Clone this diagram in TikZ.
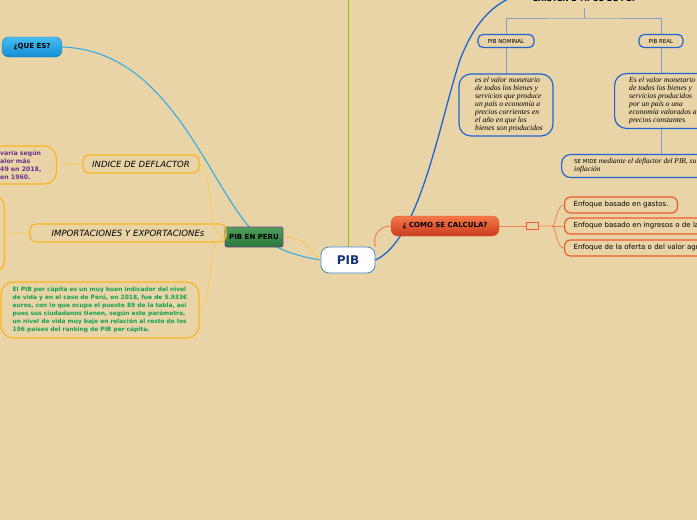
\documentclass[tikz,border=0pt]{standalone}
\usepackage{fontspec}
\setsansfont{DejaVu Sans}
\setmainfont{Liberation Serif}
\definecolor{bg}{RGB}{232,212,166}
\definecolor{cyel}{RGB}{250,180,30}
\definecolor{cyell}{RGB}{250,200,90}
\definecolor{cblue}{RGB}{30,100,210}
\definecolor{corg}{RGB}{240,90,40}
\definecolor{corgl}{RGB}{240,130,80}
\definecolor{cgl}{RGB}{130,160,200}
\definecolor{cgreen}{RGB}{140,190,20}
\definecolor{pibb}{RGB}{60,140,200}
\definecolor{pibt}{RGB}{20,50,120}
\definecolor{queb}{RGB}{20,120,190}
\definecolor{quet}{RGB}{70,190,240}
\definecolor{queo}{RGB}{20,140,210}
\definecolor{cyan2}{RGB}{40,170,230}
\definecolor{perub}{RGB}{110,70,140}
\definecolor{perut}{RGB}{80,160,90}
\definecolor{perubt}{RGB}{40,120,60}
\definecolor{tgreen}{RGB}{20,160,80}
\definecolor{tpurp}{RGB}{110,50,140}
\definecolor{comob}{RGB}{220,80,40}
\definecolor{comot}{RGB}{245,120,70}
\definecolor{comobt}{RGB}{200,60,30}
\begin{document}
\begin{tikzpicture}[x=1pt,y=-1pt,
 box/.style={draw,rounded corners=6pt,line width=1.2pt,inner sep=2pt},
 ybox/.style={box,draw=cyel},
 bbox/.style={box,draw=cblue},
 obox/.style={box,draw=corg},
 yl/.style={draw=cyell,line width=0.8pt},
 ol/.style={draw=corgl,line width=0.8pt},
 gl/.style={draw=cgl,line width=1pt},
 desc/.style={font=\itshape\fontsize{7.6}{8}\selectfont,align=left,anchor=north west,inner sep=0pt}]
\fill[bg] (0,0) rectangle (697,520);
\useasboundingbox (0,0) rectangle (697,520);
\begin{scope}
\clip (0,0) rectangle (697,520);
\coordinate (gtop) at (348,0);
\draw[cgreen,line width=1pt] (gtop) -- (348,248);
\node[font=\sffamily\bfseries\fontsize{7.5}{8}\selectfont] (tipos) at (584,-1) {EXISTEN 2 TIPOS DE PBI};
\coordinate (tj) at (584,18);
\draw[gl] (584,8) -- (tj);
\node[bbox,rounded corners=5pt,minimum width=56pt,minimum height=13pt,font=\sffamily\fontsize{5.5}{6}\selectfont] (nom) at (506,41) {PIB NOMINAL};
\node[bbox,rounded corners=5pt,minimum width=44pt,minimum height=13pt,font=\sffamily\fontsize{5.5}{6}\selectfont] (real) at (661,41) {PIB REAL};
\draw[gl] (nom.north) |- (tj) -| (real.north);
\draw[gl] (nom.south) -- (506,74);
\draw[gl] (real.south) -- (661,74);
\draw[gl] (661,128) -- (661,155);
\node[bbox,rounded corners=12pt,minimum width=94pt,minimum height=62pt] (nomt) at (506,105) {};
\node[desc] at (475,77) {es el valor monetario\\de todos los bienes y\\servicios que produce\\un país o economía a\\precios corrientes en\\el año en que los\\bienes son producidos};
\node[bbox,rounded corners=12pt,minimum width=94pt,minimum height=55pt,anchor=west] (realt) at (614,101) {};
\node[desc] at (629,77) {Es el valor monetario\\de todos los bienes y\\servicios producidos\\por un país o una\\economía valorados a\\precios constantes};
\node[bbox,rounded corners=9pt,minimum width=160pt,minimum height=23pt,anchor=west] (mide) at (561,166) {};
\node[desc,font=\itshape\fontsize{7.4}{8}\selectfont] at (574,158) {{\upshape\sffamily\fontsize{5.5}{7}\selectfont SE MIDE} mediante el deflactor del PIB, su\\inflación};
\node[draw=pibb,fill=white,rounded corners=8pt,minimum width=54pt,minimum height=26pt,line width=0.8pt,font=\sffamily\bfseries\fontsize{12}{12}\selectfont,text=pibt] (pib) at (348,260) {PIB};
\draw[cblue,line width=1.3pt] (pib.east) .. controls (420,240) and (440,120) .. (460,60) .. controls (475,20) and (495,5) .. (510,-2);
\node[draw=queb,top color=quet,bottom color=queo,rounded corners=7pt,minimum width=60pt,minimum height=20pt,font=\sffamily\bfseries\fontsize{7}{7}\selectfont] (que) at (32,47) {¿QUE ES?};
\draw[cyan2,line width=1pt] (que.east) .. controls (160,50) and (200,160) .. (240,215) .. controls (260,245) and (290,255) .. (pib.west);
\node[draw=perub,top color=perut,bottom color=perubt,rounded corners=2pt,minimum width=58pt,minimum height=20pt,line width=0.8pt,font=\sffamily\bfseries\fontsize{7}{7}\selectfont] (peru) at (254,237) {PIB EN PERU};
\draw[yl,line width=1pt] (pib.west) .. controls (310,250) and (305,237) .. (peru.east);
\node[ybox,minimum width=116pt,minimum height=18pt,font=\sffamily\itshape\fontsize{8.5}{9}\selectfont] (defl) at (141,164) {INDICE DE DEFLACTOR};
\node[ybox,minimum width=196pt,minimum height=18pt,font=\sffamily\itshape\fontsize{8.6}{9}\selectfont] (imp) at (128,233) {IMPORTACIONES Y EXPORTACIONEs};
\node[ybox,rounded corners=12pt,minimum width=198pt,minimum height=56pt,align=left,text=tgreen,font=\sffamily\bfseries\fontsize{5.9}{8}\selectfont] (capita) at (100,310) {El PIB per cápita es un muy buen indicador del nivel\\de vida y en el caso de Perú, en 2018, fue de 5.933€\\euros, con lo que ocupa el puesto 89 de la tabla, así\\pues sus ciudadanos tienen, según este parámetro,\\un nivel de vida muy bajo en relación al resto de los\\196 países del ranking de PIB per cápita.};
\draw[yl] (peru.west) .. controls (205,237) and (215,170) .. (defl.east);
\draw[yl] (peru.west) -- (imp.east);
\draw[yl] (peru.west) .. controls (205,237) and (215,300) .. (capita.east);
\node[ybox,rounded corners=12pt,minimum width=120pt,minimum height=38pt,anchor=east] (varia) at (57,165) {};
\node[anchor=north west,inner sep=0pt,align=left,text=tpurp,font=\sffamily\bfseries\fontsize{6.2}{8}\selectfont] at (0,150) {varía según\\alor más\\49 en 2018,\\en 1960.};
\node[ybox,rounded corners=12pt,minimum width=60pt,minimum height=78pt,anchor=east] (left2) at (5,234) {};
\draw[yl] (defl.west) -- (varia.east);
\draw[yl] (imp.west) -- (left2.east);
\node[draw=comob,top color=comot,bottom color=comobt,rounded corners=7pt,minimum width=108pt,minimum height=20pt,font=\sffamily\bfseries\fontsize{7}{8}\selectfont] (como) at (445,226) {¿ COMO SE CALCULA?};
\draw[ol,line width=1pt] (pib.north east) .. controls (372,235) and (380,226) .. (como.west);
\node[draw=corg,line width=1pt,minimum width=12pt,minimum height=7pt,inner sep=0pt] (sq) at (532,226) {};
\draw[ol] (como.east) -- (sq.west);
\node[obox,minimum height=16pt,anchor=west,inner xsep=9pt,font=\sffamily\fontsize{7}{8}\selectfont] (e1) at (564,205) {Enfoque basado en gastos.};
\node[obox,minimum height=16pt,anchor=west,inner xsep=9pt,text width=160pt,align=left,font=\sffamily\fontsize{7}{8}\selectfont] (e2) at (564,226) {Enfoque basado en ingresos o de la};
\node[obox,minimum height=16pt,anchor=west,inner xsep=9pt,text width=160pt,align=left,font=\sffamily\fontsize{7}{8}\selectfont] (e3) at (564,248) {Enfoque de la oferta o del valor agr};
\coordinate (fork) at (552,226);
\draw[ol] (sq.east) -- (fork) .. controls (556,226) and (556,205) .. (e1.west);
\draw[ol] (fork) -- (e2.west);
\draw[ol] (fork) .. controls (556,226) and (556,248) .. (e3.west);
\end{scope}
\end{tikzpicture}
\end{document}
